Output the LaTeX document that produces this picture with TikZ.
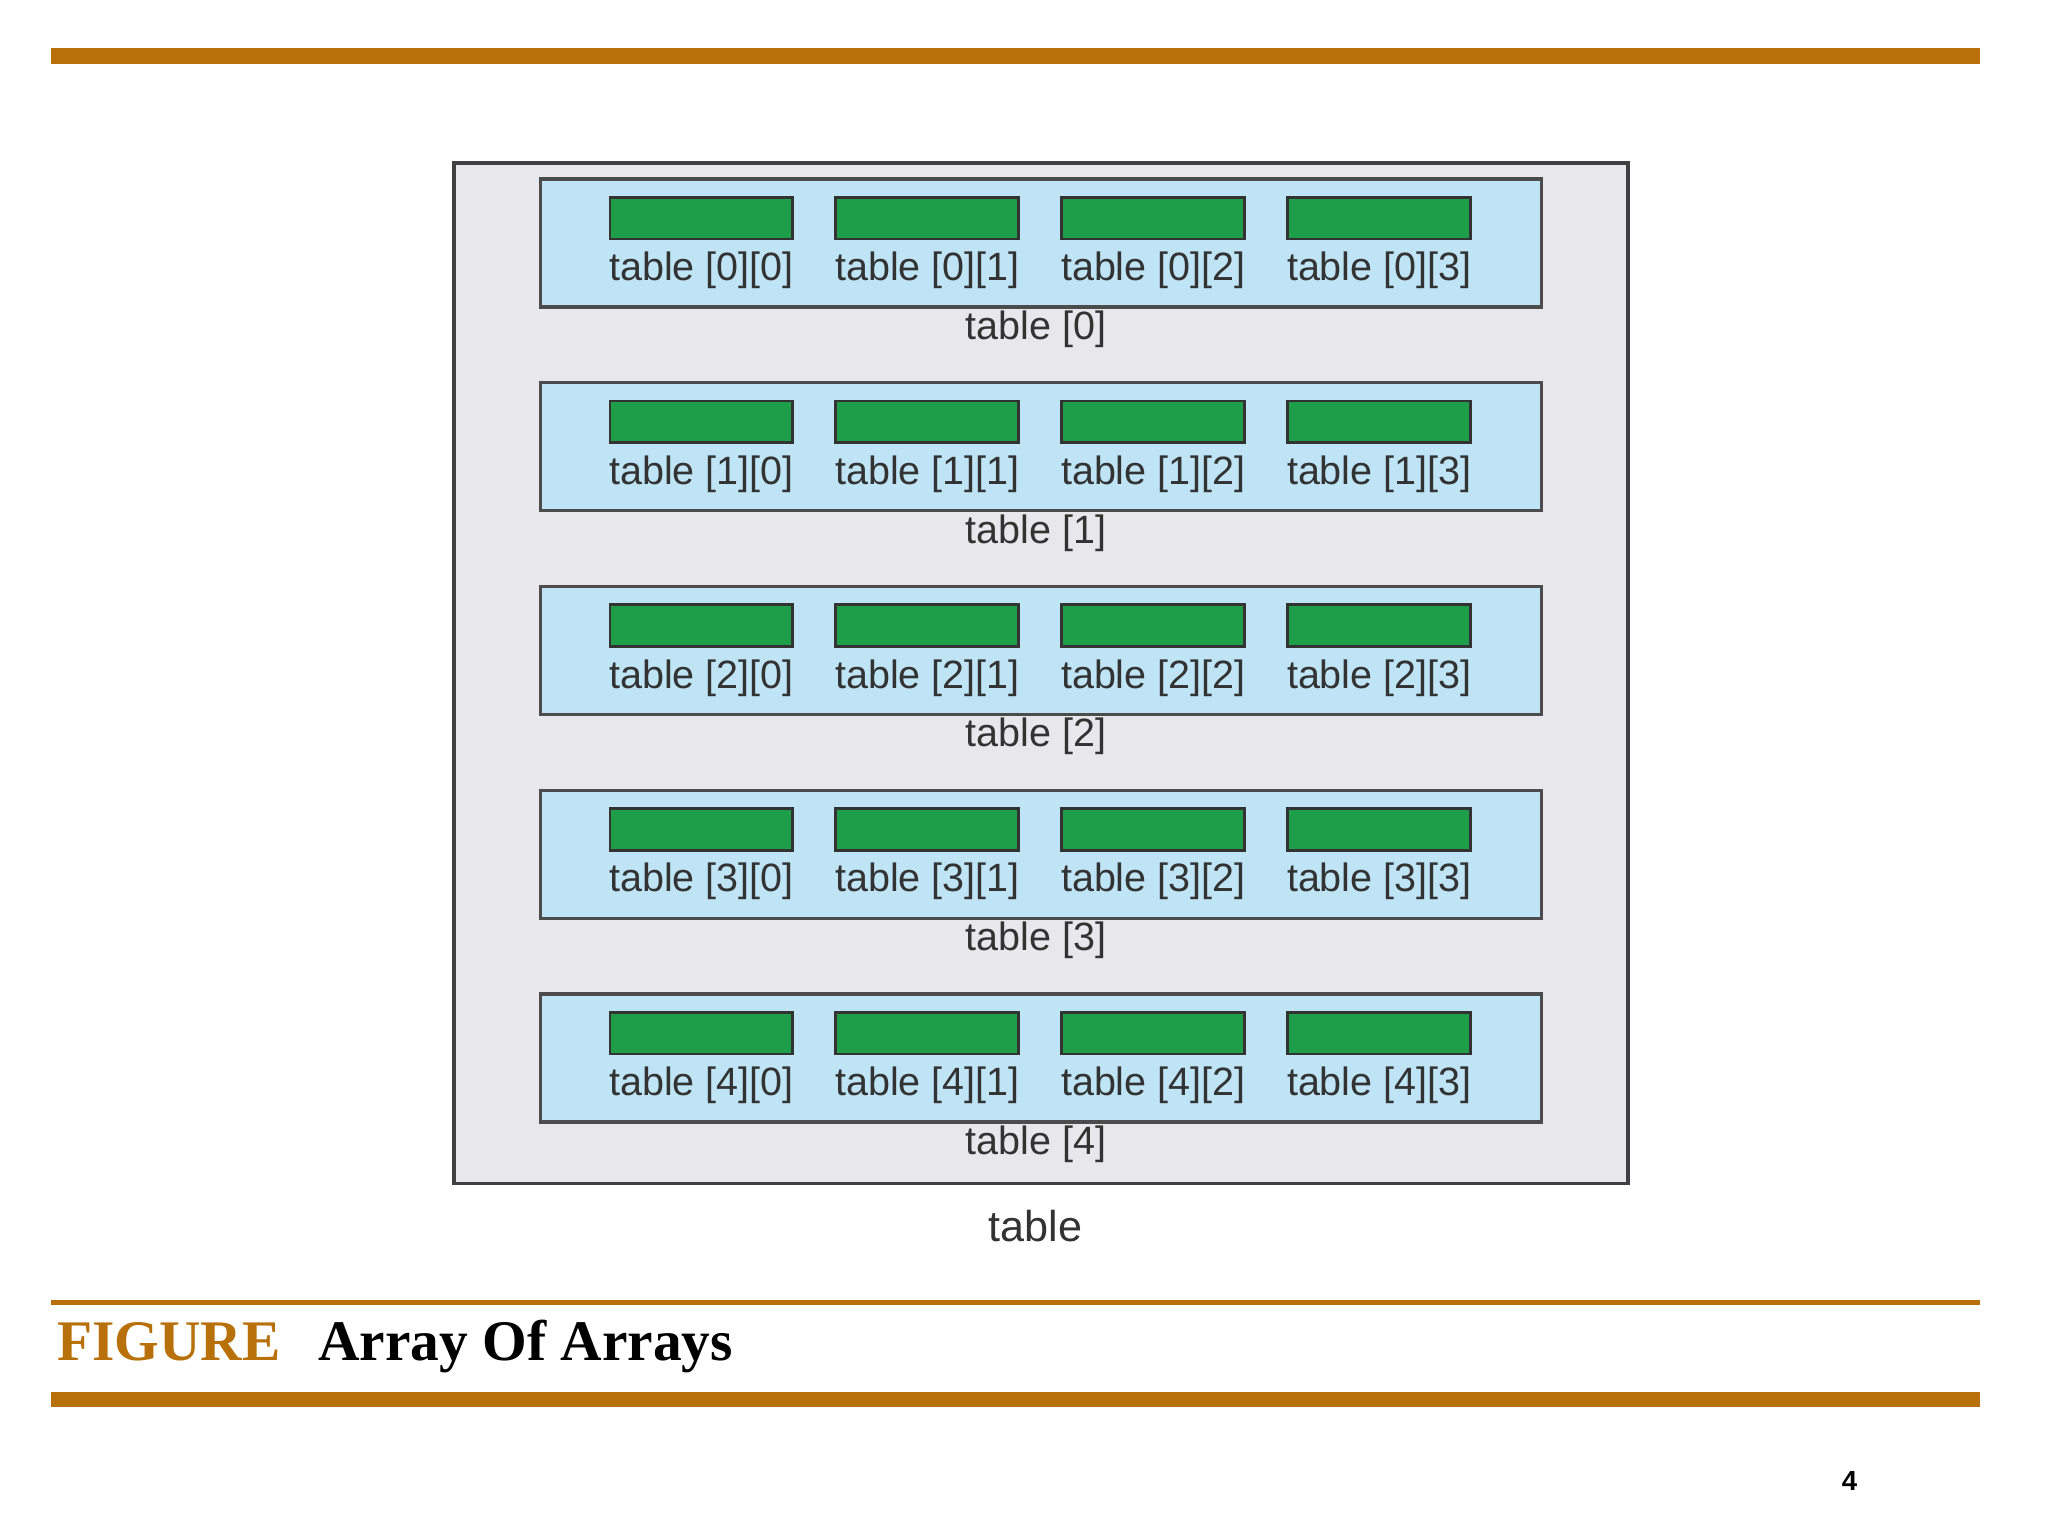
\documentclass[tikz,border=0pt]{standalone}
\usepackage{fontspec}
\setmainfont{Liberation Sans}
\newfontfamily\serifb{Liberation Serif}
\begin{document}
\begin{tikzpicture}[x=0.01cm,y=-0.01cm,
  row/.style={draw=black!70, line width=0.7pt, fill=rowblue},
  cell/.style={draw=black!80, line width=0.6pt, fill=cellgreen},
  lbl/.style={font=\fontsize{8.6}{10}\selectfont, text=black!80, inner sep=0pt}]
\definecolor{rowblue}{HTML}{BEE4F6}
\definecolor{cellgreen}{HTML}{1E9E48}
\definecolor{gold}{HTML}{B8700A}
\definecolor{boxgray}{HTML}{E8E8EC}
\useasboundingbox (0,0) rectangle (1568,1176);
\fill[gold] (39,37) rectangle (1516,49);
\fill[gold] (39,995) rectangle (1516,999);
\fill[gold] (39,1066) rectangle (1516,1077);
\node[draw=black!75, line width=0.8pt, fill=boxgray, minimum width=8.98cm, minimum height=7.81cm, inner sep=0pt] (outer) at (797,515.5) {};
\foreach \r/\yt in {0/137,1/293,2/449,3/605,4/761}{
  \node[row, minimum width=7.66cm, minimum height=0.98cm, inner sep=0pt] (row\r) at (797,\yt+49) {};
  \foreach \c/\x in {0/537,1/710,2/883,3/1056}{
    \node[cell, minimum width=1.40cm, minimum height=0.32cm, inner sep=0pt] (c\r\c) at (\x,\yt+30) {};
    \node[lbl] (l\r\c) at (\x,\yt+70) {table [\r][\c]};
  }
  \node[lbl] (rl\r) at (793,\yt+115) {table [\r]};
}
\node[lbl, font=\fontsize{9.4}{11}\selectfont] (tbl) at (793,939) {table};
\node[anchor=base west, inner sep=0pt, text=gold, font=\serifb\bfseries\fontsize{12.5}{14}\selectfont] (fig) at (43,1042) {FIGURE};
\node[anchor=base west, inner sep=0pt, font=\serifb\bfseries\fontsize{12.5}{14}\selectfont] (cap) at (243,1042) {Array Of Arrays};
\node[inner sep=0pt, font=\bfseries\fontsize{6}{7}\selectfont] (pg) at (1416,1134) {4};
\end{tikzpicture}
\end{document}
